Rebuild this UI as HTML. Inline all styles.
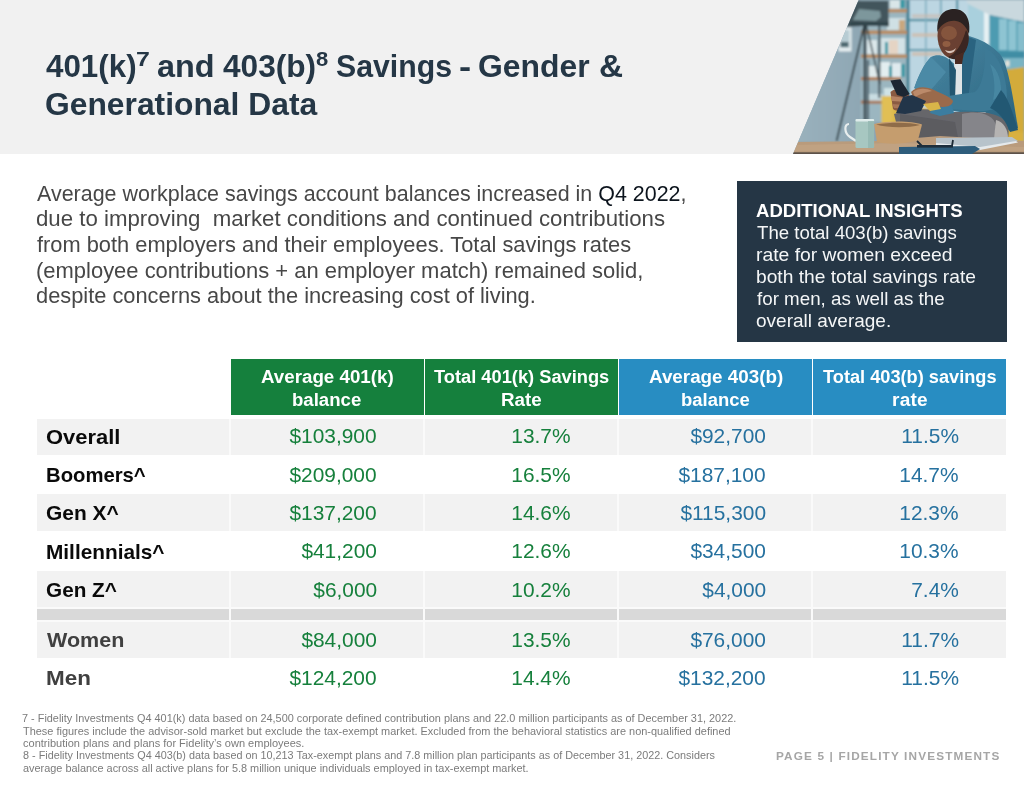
<!DOCTYPE html>
<html lang="en">
<head>
<meta charset="utf-8">
<title>401(k) and 403(b) Savings - Gender &amp; Generational Data</title>
<style>
html,body{margin:0;padding:0;}
body{width:1024px;height:790px;position:relative;overflow:hidden;background:#fff;font-family:"Liberation Sans",Arial,sans-serif;}
.t{position:absolute;white-space:nowrap;line-height:1;transform-origin:0 50%;}
.t b{font-weight:normal;color:#0c141d;}
.t sup{font-size:0.62em;vertical-align:baseline;position:relative;top:-0.52em;line-height:0;}
#band{position:absolute;left:0;top:0;width:1024px;height:154px;background:#f1f1f1;}
#photo{position:absolute;left:784px;top:0;width:240px;height:154px;}
#box{position:absolute;left:737px;top:181px;width:270px;height:161px;background:#253645;}
.c{position:absolute;}
.g{background:#15803d;}
.b{background:#288dc2;}
.z{background:#f2f2f2;}
.dv{background:#d9d9d9;}
</style>
</head>
<body>
<div id="band"></div>
<svg id="photo" viewBox="784 0 240 154">
<defs>
<clipPath id="pc"><polygon points="858.6,0 1024,0 1024,154.2 792.9,154.2"/></clipPath>
<filter id="bl" x="-5%" y="-5%" width="110%" height="110%"><feGaussianBlur stdDeviation="0.7"/></filter>
<filter id="bl2" x="-5%" y="-5%" width="110%" height="110%"><feGaussianBlur stdDeviation="1.0"/></filter>
<linearGradient id="wall" x1="0" y1="0" x2="1" y2="0"><stop offset="0" stop-color="#9cb3be"/><stop offset="1" stop-color="#8aa3b1"/></linearGradient>
<linearGradient id="jk" x1="0" y1="0" x2="1" y2="1"><stop offset="0" stop-color="#4b89a5"/><stop offset="1" stop-color="#2a637e"/></linearGradient>
</defs>
<g clip-path="url(#pc)">
<rect x="784" y="0" width="240" height="155" fill="#8fa8b5"/>
<g filter="url(#bl2)">
<!-- wall -->
<rect x="784" y="0" width="100" height="142" fill="url(#wall)"/>
<!-- shelf area -->
<rect x="861" y="0" width="48" height="122" fill="#9bb6c0"/>
<!-- glass wall -->
<rect x="908" y="0" width="80" height="120" fill="#bcd6e2"/>
<rect x="968" y="0" width="22" height="70" fill="#a9d0dd"/>
<rect x="984" y="10" width="5" height="34" fill="#e6f0f3"/>
<!-- ceiling -->
<polygon points="966,0 1024,0 1024,22 990,15 968,4" fill="#c9d8de"/>
<!-- cabinets -->
<polygon points="989.5,15 1024,22 1024,70 989.5,70" fill="#4d9bb1"/>
<rect x="999" y="19" width="8" height="31" fill="#8ec4d2"/>
<rect x="1008.3" y="20.5" width="8" height="30" fill="#8ec4d2"/>
<rect x="1017.6" y="23" width="7" height="28" fill="#86bdcc"/>
<rect x="989.5" y="51.5" width="35" height="6.5" fill="#3f8da4"/>
<rect x="996" y="58" width="28" height="11" fill="#7ab5c5"/>
<rect x="1005.5" y="60.5" width="4" height="6" fill="#e8e4dc"/>
<!-- glass frame bars -->
<rect x="906.5" y="0" width="3" height="122" fill="#3f7f92"/>
<rect x="909" y="19" width="50" height="2.2" fill="#4c8ea1"/>
<rect x="909" y="49" width="40" height="2" fill="#5b9aac"/>
<rect x="925" y="0" width="1.6" height="80" fill="#7fb0c0"/>
<rect x="940" y="0" width="1.6" height="20" fill="#6da5b7"/>
<rect x="956" y="0" width="2.2" height="20" fill="#4f92a6"/>
<!-- reflected shelves in glass -->
<rect x="912" y="14" width="30" height="4" fill="#c9b9ad" opacity=".6"/>
<rect x="912" y="33" width="30" height="4" fill="#d2b9a6" opacity=".7"/>
<rect x="912" y="52" width="30" height="4" fill="#d2b9a6" opacity=".7"/>
<!-- shelves -->
<rect x="861" y="9" width="46" height="3.4" fill="#b98c62"/>
<rect x="861" y="30.5" width="46" height="3.6" fill="#b98c62"/>
<rect x="861" y="54.5" width="46" height="3.4" fill="#b98c62"/>
<rect x="861" y="77" width="40" height="3.2" fill="#b07f58"/>
<rect x="861" y="100.5" width="24" height="3.2" fill="#a9795a"/>
<!-- books -->
<rect x="890" y="0" width="15" height="8.5" fill="#d9e6e8"/>
<rect x="900" y="0" width="5" height="8.5" fill="#3d9aa6"/>
<rect x="887" y="18" width="18" height="12" fill="#cfe0e4"/>
<rect x="899" y="20" width="6" height="10" fill="#c9a77e"/>
<rect x="867" y="40" width="10" height="14" fill="#dbe7ea"/>
<rect x="881" y="38" width="24" height="16" fill="#d3e2e6"/>
<rect x="885" y="42" width="3" height="12" fill="#3d9aa6"/>
<rect x="889" y="40" width="9" height="14" fill="#e5d4c4"/>
<rect x="868" y="66" width="9" height="11" fill="#e0ebed"/>
<rect x="880" y="62" width="10" height="15" fill="#e3eef0"/>
<rect x="892" y="63" width="9" height="14" fill="#dfeaee"/>
<rect x="889" y="66" width="3" height="11" fill="#2f98a4"/>
<rect x="901" y="64" width="4" height="13" fill="#3d9aa6"/>
<rect x="869" y="94" width="14" height="6.5" fill="#c9dde2"/>
<rect x="884" y="88" width="14" height="9" fill="#cfe3e6"/>
<!-- shelf posts -->
<rect x="863.6" y="26" width="2.6" height="96" fill="#2f3d45"/>
<rect x="867.2" y="60" width="1.6" height="62" fill="#3a4a52"/>
<rect x="878.2" y="26" width="2.2" height="72" fill="#3b4b54" opacity=".85"/>
<!-- picture frame -->
<rect x="838.5" y="27.5" width="13" height="24" fill="#e6eef0"/>
<rect x="840.5" y="30" width="9" height="18" fill="#b7ccd3"/>
<rect x="840.5" y="42" width="8" height="5" fill="#4e6770"/>
<!-- lamp shade -->
<polygon points="846,27 851,0.8 888.5,0.8 888.8,26.5 870,25.5" fill="#43545c"/>
<polygon points="853,20 859,9 880,11 881,17 876,21" fill="#7d979c"/>
<rect x="850" y="22" width="39" height="4" fill="#33444c"/>
<!-- lamp legs -->
<line x1="864" y1="26" x2="836.6" y2="141" stroke="#24343b" stroke-width="1.7"/>
<line x1="866.5" y1="26" x2="880" y2="84" stroke="#2b3b43" stroke-width="1.4"/>
<!-- sofa -->
<polygon points="1004,70 1024,67 1024,142 1004,142" fill="#d3ab3b"/>
<rect x="881.5" y="96" width="19" height="28" fill="#e1bf55"/>
<rect x="893" y="108" width="40" height="14" fill="#ddb84a"/>
<rect x="930" y="132" width="94" height="10" fill="#d8b040"/>
</g>
<!-- man -->
<g filter="url(#bl)">
<!-- jacket body -->
<path d="M931,57 C938,53 946,56 952,62 L957,66 L961,50 L966,35 L975,38 C984,41 992,46 1000,54 C1008,64 1013,96 1018,128 L1010,131 L985,112 L960,112 L936,108 L917,98 L915,86 C919,74 924,64 931,57 Z" fill="url(#jk)"/>
<!-- tee -->
<polygon points="954,62 962,62 962,100 955,100" fill="#dfe4e6"/>
<!-- collar shadow -->
<path d="M949,58 L956,70 L955,100 L950,100 Z" fill="#24566f"/>
<path d="M962,60 L966,36 L976,40 L968,100 L962,100 Z" fill="#2b6480"/>
<!-- right arm -->
<path d="M985,48 C1000,54 1007,78 1007,98 C1004,108 990,112 975,111 L950,109 L948,96 L975,92 C982,86 984,72 985,60 Z" fill="#3c7a96"/>
<path d="M990,64 C999,70 1002,84 1001,96 L993,100 C996,88 994,74 990,64 Z" fill="#4a8ba5" opacity=".8"/>
<!-- left arm -->
<path d="M931,57 C924,64 919,76 914,88 L926,96 C932,88 940,80 946,72 Z" fill="#4c8aa6"/>
<!-- pants -->
<path d="M894,114 C910,108 930,108 950,112 C965,112 985,110 998,116 C1008,120 1010,130 1008,138 L900,138 Z" fill="#66666b"/>
<path d="M962,114 C978,110 994,114 996,126 L994,138 L962,138 Z" fill="#85858a"/>
<path d="M996,120 C1004,122 1008,130 1008,138 L994,138 Z" fill="#b5b3b2"/>
<path d="M900,114 L955,122 L958,138 L900,138 Z" fill="#5b5b61"/>
<!-- jacket lower right -->
<path d="M1001,90 C1010,100 1014,118 1018,130 L1010,132 C1006,122 1000,112 990,108 Z" fill="#235873"/>
<!-- shirt tail -->
<path d="M932,108 L952,105 L954,113 L940,116 L930,113 Z" fill="#3a7da0"/>
<!-- head -->
<ellipse cx="953" cy="36" rx="15.5" ry="22.5" fill="#6a4030"/>
<path d="M937.5,32 C936,14 946,8.5 955,9 C966,9.5 971,20 969,34 C966,26 962,22 956,21 C948,20 941,24 937.5,32 Z" fill="#2a2320"/>
<path d="M966,30 C971,36 969,48 962,56 C958,60 952,60 948,57 C956,54 962,44 966,30 Z" fill="#3a2620"/>
<ellipse cx="949" cy="33" rx="8" ry="7" fill="#8a583f" opacity=".85"/>
<ellipse cx="946.5" cy="44" rx="4" ry="3" fill="#9a6448" opacity=".8"/>
<path d="M945,50 C949,52 953,51 956,48 C954,54 948,55 945,50 Z" fill="#d8c4bb"/>
<!-- neck -->
<path d="M955,56 L964,52 L962,64 L955,64 Z" fill="#4a2c22"/>
<!-- hands -->
<path d="M911,92 C916,86 926,86 934,90 C942,94 950,96 953,101 C952,107 944,108 936,106 C928,104 920,104 914,100 Z" fill="#9a6a4c"/>
<path d="M913,92 C918,88 926,88 932,91 C926,92 920,94 915,97 Z" fill="#bb8a6a"/>
<path d="M890.5,92 C894,88 902,89 908,93 L912,104 C908,111 898,113 893,109 Z" fill="#8a5a42"/>
<path d="M891,96 L906,98 L907,102 L892,101 Z" fill="#b58364"/>
<path d="M892,104 L905,105 L905,108 L894,108 Z" fill="#a87658"/>
<!-- phone -->
<polygon points="890.4,80.5 900.4,79.3 909.7,94 904,97 897,95" fill="#1e2833"/>
<!-- cuff -->
<polygon points="903,97 912,95 926,101 921,111 905,114 896,113" fill="#22354a"/>
<!-- sofa visible under arm -->
<polygon points="923,104 938,102 941,109 930,111" fill="#d9b548"/>
</g>
<!-- table & objects -->
<g filter="url(#bl)">
<polygon points="784,142 880,141 940,136 1024,141 1024,155 784,155" fill="#b99b7c"/>
<polygon points="784,145 900,143 1024,147 1024,151 784,151" fill="#c3a585" opacity=".7"/>
<rect x="784" y="152.3" width="240" height="3" fill="#5b5148"/>
<!-- basket -->
<path d="M874,124 C890,120.5 912,121 922,124.5 L918,140 C905,144.5 888,144.5 877,142 Z" fill="#c59d6e"/>
<path d="M876,124.5 C892,122 910,122.3 920,125 C908,128 888,128 876,124.5 Z" fill="#8f6c49"/>
<!-- mug -->
<path d="M849,124 C844,124 844,133 850,137 L856,141" fill="none" stroke="#e8eeee" stroke-width="2.2"/>
<rect x="855.5" y="119" width="18.6" height="29" rx="1.5" fill="#a7c7c1"/>
<rect x="855.5" y="119" width="18.6" height="2.4" rx="1" fill="#dfeceb"/>
<rect x="868" y="121" width="6" height="27" fill="#93b6b0" opacity=".8"/>
<!-- laptop -->
<polygon points="936,138 1012,137 1018,141 980,149 936,145" fill="#b7c3cb"/>
<polygon points="936,143 980,147 1016,141 1018,142.5 980,150 936,146" fill="#e4e9ec"/>
<!-- notebook -->
<polygon points="899,147 975,146 980,149 972,154 899,154" fill="#2d5d7c"/>
<!-- glasses -->
<path d="M917,141 L922,146 L952,146 L953,140" fill="none" stroke="#1c2a36" stroke-width="1.8"/>
<rect x="917" y="145" width="36" height="2.6" fill="#1f2f3c"/>
</g>
</g>
</svg>
<div id="box"></div>
<div class="c g" style="left:231px;top:359px;width:193px;height:56px"></div>
<div class="c g" style="left:425px;top:359px;width:193px;height:56px"></div>
<div class="c b" style="left:619px;top:359px;width:193px;height:56px"></div>
<div class="c b" style="left:813px;top:359px;width:193px;height:56px"></div>
<div class="c" style="left:37px;top:419.0px;width:969px;height:36.0px;background:#fafafa"></div>
<div class="c" style="left:37px;top:494.4px;width:969px;height:36.6px;background:#fafafa"></div>
<div class="c" style="left:37px;top:570.5px;width:969px;height:87.0px;background:#fafafa"></div>
<div class="c z" style="left:37.0px;top:419.0px;width:192.3px;height:36.0px"></div>
<div class="c z" style="left:231.2px;top:419.0px;width:192.1px;height:36.0px"></div>
<div class="c z" style="left:425.2px;top:419.0px;width:192.1px;height:36.0px"></div>
<div class="c z" style="left:619.2px;top:419.0px;width:192.1px;height:36.0px"></div>
<div class="c z" style="left:813.2px;top:419.0px;width:192.8px;height:36.0px"></div>
<div class="c z" style="left:37.0px;top:494.4px;width:192.3px;height:36.6px"></div>
<div class="c z" style="left:231.2px;top:494.4px;width:192.1px;height:36.6px"></div>
<div class="c z" style="left:425.2px;top:494.4px;width:192.1px;height:36.6px"></div>
<div class="c z" style="left:619.2px;top:494.4px;width:192.1px;height:36.6px"></div>
<div class="c z" style="left:813.2px;top:494.4px;width:192.8px;height:36.6px"></div>
<div class="c z" style="left:37.0px;top:570.5px;width:192.3px;height:36.5px"></div>
<div class="c z" style="left:231.2px;top:570.5px;width:192.1px;height:36.5px"></div>
<div class="c z" style="left:425.2px;top:570.5px;width:192.1px;height:36.5px"></div>
<div class="c z" style="left:619.2px;top:570.5px;width:192.1px;height:36.5px"></div>
<div class="c z" style="left:813.2px;top:570.5px;width:192.8px;height:36.5px"></div>
<div class="c z" style="left:37.0px;top:622.0px;width:192.3px;height:35.5px"></div>
<div class="c z" style="left:231.2px;top:622.0px;width:192.1px;height:35.5px"></div>
<div class="c z" style="left:425.2px;top:622.0px;width:192.1px;height:35.5px"></div>
<div class="c z" style="left:619.2px;top:622.0px;width:192.1px;height:35.5px"></div>
<div class="c z" style="left:813.2px;top:622.0px;width:192.8px;height:35.5px"></div>
<div class="c dv" style="left:37.0px;top:609px;width:192.3px;height:11px"></div>
<div class="c dv" style="left:231.2px;top:609px;width:192.1px;height:11px"></div>
<div class="c dv" style="left:425.2px;top:609px;width:192.1px;height:11px"></div>
<div class="c dv" style="left:619.2px;top:609px;width:192.1px;height:11px"></div>
<div class="c dv" style="left:813.2px;top:609px;width:192.8px;height:11px"></div>

<div class="t" style="left:46.20px;top:50.00px;font-size:32px;transform:scaleX(0.9791);font-weight:bold;color:#253746;">401(k)</div>
<div class="t" style="left:135.56px;top:49.00px;font-size:20px;transform:scaleX(1.2444);font-weight:bold;color:#253746;">7</div>
<div class="t" style="left:157.09px;top:50.00px;font-size:32px;transform:scaleX(1.0130);font-weight:bold;color:#253746;">and</div>
<div class="t" style="left:223.10px;top:50.00px;font-size:32px;transform:scaleX(0.9882);font-weight:bold;color:#253746;">403(b)</div>
<div class="t" style="left:315.70px;top:49.00px;font-size:20px;transform:scaleX(1.1000);font-weight:bold;color:#253746;">8</div>
<div class="t" style="left:335.95px;top:50.00px;font-size:32px;transform:scaleX(0.9450);font-weight:bold;color:#253746;">Savings</div>
<div class="t" style="left:459.46px;top:50.00px;font-size:32px;transform:scaleX(1.1375);font-weight:bold;color:#253746;">-</div>
<div class="t" style="left:478.40px;top:50.00px;font-size:32px;transform:scaleX(0.9964);font-weight:bold;color:#253746;">Gender</div>
<div class="t" style="left:599.26px;top:50.00px;font-size:32px;transform:scaleX(1.0429);font-weight:bold;color:#253746;">&amp;</div>
<div class="t" style="left:45.21px;top:88.00px;font-size:32px;transform:scaleX(0.9938);font-weight:bold;color:#253746;">Generational Data</div>
<div class="t" style="left:37.30px;top:183.00px;font-size:22px;transform:scaleX(0.9750);color:#474747;">Average workplace savings account balances increased in <b>Q4 2022</b>,</div>
<div class="t" style="left:36.29px;top:208.00px;font-size:22px;transform:scaleX(1.0105);color:#474747;">due to improving&nbsp; market conditions and continued contributions</div>
<div class="t" style="left:37.30px;top:234.00px;font-size:22px;transform:scaleX(0.9921);color:#474747;">from both employers and their employees. Total savings rates</div>
<div class="t" style="left:36.30px;top:260.00px;font-size:22px;transform:scaleX(0.9982);color:#474747;">(employee contributions + an employer match) remained solid,</div>
<div class="t" style="left:36.31px;top:285.00px;font-size:22px;transform:scaleX(0.9920);color:#474747;">despite concerns about the increasing cost of living.</div>
<div class="t" style="left:755.70px;top:202.00px;font-size:18.5px;transform:scaleX(1.0015);font-weight:bold;color:#fff;">ADDITIONAL INSIGHTS</div>
<div class="t" style="left:756.70px;top:224.00px;font-size:18.5px;transform:scaleX(1.0066);color:#f4f6f7;">The total 403(b) savings</div>
<div class="t" style="left:755.66px;top:246.00px;font-size:18.5px;transform:scaleX(1.0446);color:#f4f6f7;">rate for women exceed</div>
<div class="t" style="left:755.66px;top:268.00px;font-size:18.5px;transform:scaleX(1.0381);color:#f4f6f7;">both the total savings rate</div>
<div class="t" style="left:756.70px;top:290.00px;font-size:18.5px;transform:scaleX(1.0141);color:#f4f6f7;">for men, as well as the</div>
<div class="t" style="left:755.67px;top:312.00px;font-size:18.5px;transform:scaleX(1.0271);color:#f4f6f7;">overall average.</div>
<div class="t" style="left:261.30px;top:369.00px;font-size:17.5px;transform:scaleX(1.0707);font-weight:bold;color:#fff;">Average 401(k)</div>
<div class="t" style="left:292.24px;top:392.00px;font-size:17.5px;transform:scaleX(1.0625);font-weight:bold;color:#fff;">balance</div>
<div class="t" style="left:434.10px;top:369.00px;font-size:17.5px;transform:scaleX(1.0437);font-weight:bold;color:#fff;">Total 401(k) Savings</div>
<div class="t" style="left:501.13px;top:392.00px;font-size:17.5px;transform:scaleX(1.0722);font-weight:bold;color:#fff;">Rate</div>
<div class="t" style="left:648.80px;top:369.00px;font-size:17.5px;transform:scaleX(1.0750);font-weight:bold;color:#fff;">Average 403(b)</div>
<div class="t" style="left:680.75px;top:392.00px;font-size:17.5px;transform:scaleX(1.0547);font-weight:bold;color:#fff;">balance</div>
<div class="t" style="left:823.40px;top:369.00px;font-size:17.5px;transform:scaleX(1.0398);font-weight:bold;color:#fff;">Total 403(b) savings</div>
<div class="t" style="left:891.91px;top:392.00px;font-size:17.5px;transform:scaleX(1.0900);letter-spacing:0.214px;font-weight:bold;color:#fff;">rate</div>
<div class="t" style="left:45.93px;top:427.00px;font-size:20.6px;transform:scaleX(1.0657);font-weight:bold;color:#0a0a0a;">Overall</div>
<div class="t" style="right:647.11px;top:425.00px;font-size:21px;transform:scaleX(0.9950);transform-origin:100% 50%;color:#16803c;">$103,900</div>
<div class="t" style="right:453.46px;top:425.00px;font-size:21px;transform:scaleX(0.9950);transform-origin:100% 50%;color:#16803c;">13.7%</div>
<div class="t" style="right:258.58px;top:425.00px;font-size:21px;transform:scaleX(0.9950);transform-origin:100% 50%;color:#26719f;">$92,700</div>
<div class="t" style="right:65.40px;top:425.00px;font-size:21px;transform:scaleX(0.9950);transform-origin:100% 50%;color:#26719f;">11.5%</div>
<div class="t" style="left:46.02px;top:465.00px;font-size:20.6px;transform:scaleX(0.9840);font-weight:bold;color:#0a0a0a;">Boomers^</div>
<div class="t" style="right:647.11px;top:464.00px;font-size:21px;transform:scaleX(0.9950);transform-origin:100% 50%;color:#16803c;">$209,000</div>
<div class="t" style="right:453.46px;top:464.00px;font-size:21px;transform:scaleX(0.9950);transform-origin:100% 50%;color:#16803c;">16.5%</div>
<div class="t" style="right:258.91px;top:464.00px;font-size:21px;transform:scaleX(0.9950);transform-origin:100% 50%;color:#26719f;">$187,100</div>
<div class="t" style="right:65.86px;top:464.00px;font-size:21px;transform:scaleX(0.9950);transform-origin:100% 50%;color:#26719f;">14.7%</div>
<div class="t" style="left:45.98px;top:503.00px;font-size:20.6px;transform:scaleX(1.0157);font-weight:bold;color:#0a0a0a;">Gen X^</div>
<div class="t" style="right:647.11px;top:502.00px;font-size:21px;transform:scaleX(0.9950);transform-origin:100% 50%;color:#16803c;">$137,200</div>
<div class="t" style="right:453.46px;top:502.00px;font-size:21px;transform:scaleX(0.9950);transform-origin:100% 50%;color:#16803c;">14.6%</div>
<div class="t" style="right:258.47px;top:502.00px;font-size:21px;transform:scaleX(0.9950);transform-origin:100% 50%;color:#26719f;">$115,300</div>
<div class="t" style="right:65.86px;top:502.00px;font-size:21px;transform:scaleX(0.9950);transform-origin:100% 50%;color:#26719f;">12.3%</div>
<div class="t" style="left:45.99px;top:542.00px;font-size:20.6px;transform:scaleX(1.0103);font-weight:bold;color:#0a0a0a;">Millennials^</div>
<div class="t" style="right:646.78px;top:540.00px;font-size:21px;transform:scaleX(0.9950);transform-origin:100% 50%;color:#16803c;">$41,200</div>
<div class="t" style="right:453.46px;top:540.00px;font-size:21px;transform:scaleX(0.9950);transform-origin:100% 50%;color:#16803c;">12.6%</div>
<div class="t" style="right:258.58px;top:540.00px;font-size:21px;transform:scaleX(0.9950);transform-origin:100% 50%;color:#26719f;">$34,500</div>
<div class="t" style="right:65.86px;top:540.00px;font-size:21px;transform:scaleX(0.9950);transform-origin:100% 50%;color:#26719f;">10.3%</div>
<div class="t" style="left:45.99px;top:580.00px;font-size:20.6px;transform:scaleX(1.0072);font-weight:bold;color:#0a0a0a;">Gen Z^</div>
<div class="t" style="right:646.47px;top:579.00px;font-size:21px;transform:scaleX(0.9950);transform-origin:100% 50%;color:#16803c;">$6,000</div>
<div class="t" style="right:453.46px;top:579.00px;font-size:21px;transform:scaleX(0.9950);transform-origin:100% 50%;color:#16803c;">10.2%</div>
<div class="t" style="right:258.27px;top:579.00px;font-size:21px;transform:scaleX(0.9950);transform-origin:100% 50%;color:#26719f;">$4,000</div>
<div class="t" style="right:65.53px;top:579.00px;font-size:21px;transform:scaleX(0.9950);transform-origin:100% 50%;color:#26719f;">7.4%</div>
<div class="t" style="left:47.00px;top:630.00px;font-size:20.6px;transform:scaleX(1.0452);font-weight:bold;color:#404040;">Women</div>
<div class="t" style="right:646.78px;top:629.00px;font-size:21px;transform:scaleX(0.9950);transform-origin:100% 50%;color:#16803c;">$84,000</div>
<div class="t" style="right:453.46px;top:629.00px;font-size:21px;transform:scaleX(0.9950);transform-origin:100% 50%;color:#16803c;">13.5%</div>
<div class="t" style="right:258.58px;top:629.00px;font-size:21px;transform:scaleX(0.9950);transform-origin:100% 50%;color:#26719f;">$76,000</div>
<div class="t" style="right:65.40px;top:629.00px;font-size:21px;transform:scaleX(0.9950);transform-origin:100% 50%;color:#26719f;">11.7%</div>
<div class="t" style="left:45.91px;top:668.00px;font-size:20.6px;transform:scaleX(1.0900);letter-spacing:0.041px;font-weight:bold;color:#404040;">Men</div>
<div class="t" style="right:647.11px;top:667.00px;font-size:21px;transform:scaleX(0.9950);transform-origin:100% 50%;color:#16803c;">$124,200</div>
<div class="t" style="right:453.46px;top:667.00px;font-size:21px;transform:scaleX(0.9950);transform-origin:100% 50%;color:#16803c;">14.4%</div>
<div class="t" style="right:258.91px;top:667.00px;font-size:21px;transform:scaleX(0.9950);transform-origin:100% 50%;color:#26719f;">$132,200</div>
<div class="t" style="right:65.40px;top:667.00px;font-size:21px;transform:scaleX(0.9950);transform-origin:100% 50%;color:#26719f;">11.5%</div>
<div class="t" style="left:21.68px;top:713.00px;font-size:10.7px;transform:scaleX(1.0189);color:#7b7b7b;">7 - Fidelity Investments Q4 401(k) data based on 24,500 corporate defined contribution plans and 22.0 million participants as of December 31, 2022.</div>
<div class="t" style="left:22.70px;top:726.00px;font-size:10.7px;transform:scaleX(1.0233);color:#7b7b7b;">These figures include the advisor-sold market but exclude the tax-exempt market. Excluded from the behavioral statistics are non-qualified defined</div>
<div class="t" style="left:22.70px;top:738.00px;font-size:10.7px;transform:scaleX(1.0305);color:#7b7b7b;">contribution plans and plans for Fidelity’s own employees.</div>
<div class="t" style="left:22.70px;top:750.00px;font-size:10.7px;transform:scaleX(1.0122);color:#7b7b7b;">8 - Fidelity Investments Q4 403(b) data based on 10,213 Tax-exempt plans and 7.8 million plan participants as of December 31, 2022. Considers</div>
<div class="t" style="left:22.70px;top:763.00px;font-size:10.7px;transform:scaleX(1.0192);color:#7b7b7b;">average balance across all active plans for 5.8 million unique individuals employed in tax-exempt market.</div>
<div class="t" style="left:776.41px;top:751.00px;font-size:10.8px;transform:scaleX(1.0900);letter-spacing:1.050px;font-weight:bold;color:#a6a6a6;">PAGE 5 | FIDELITY INVESTMENTS</div>
</body>
</html>
